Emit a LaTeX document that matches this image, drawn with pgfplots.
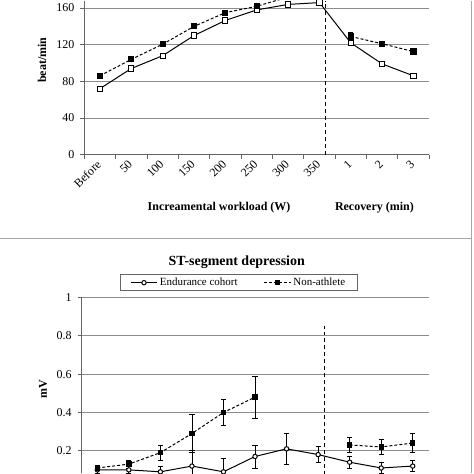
\documentclass[border=0pt]{standalone}
\usepackage{fontspec}
\setmainfont{Liberation Serif}
\usepackage{pgfplots}
\pgfplotsset{compat=1.18}

\definecolor{gridgray}{RGB}{140,140,140}
\definecolor{axisgray}{RGB}{100,100,100}

\pgfplotsset{
  panel/.style={
    scale only axis,
    xmin=0.5, xmax=11.5,
    axis lines*=left,
    axis line style={axisgray, line width=0.8pt},
    xtick={1,...,11},
    minor xtick={0.5,1.5,...,11.5},
    major x tick style={draw=none},
    minor x tick style={axisgray, line width=0.8pt},
    major y tick style={axisgray, line width=0.8pt},
    tick align=outside,
    major tick length=4pt,
    minor tick length=4pt,
    ymajorgrids,
    grid style={gridgray, line width=0.8pt},
    tick label style={font=\fontsize{12}{12}\selectfont},
    yticklabel style={xshift=-2.5pt},
    /pgf/number format/assume math mode=true,
    error bars/error bar style={black, line width=0.9pt, solid},
    error bars/error mark options={rotate=90, mark size=2.6pt, line width=0.9pt, solid},
    legend image code/.code={
      \draw[mark repeat=2, mark phase=2, #1]
        plot coordinates {(0pt,0pt) (13.5pt,0pt) (27pt,0pt)};
    },
  },
  endur/.style={black, line width=1pt, solid},
  nonath/.style={black, line width=1pt, dash pattern=on 3pt off 2pt},
}

\begin{document}
\begin{tikzpicture}
\path (0pt,0pt) rectangle (474pt,474pt);

% heart rate (upper part cropped in the original)
\begin{axis}[panel,
    at={(84pt,319.7pt)}, anchor=south west,
    width=346pt, height=154.3pt,
    ymin=0, ymax=168, ytick={0,40,...,160},
    xticklabels={Before,50,100,150,200,250,300,350,1,2,3},
    xticklabel style={rotate=45, anchor=east, yshift=-2pt},
  ]
\addplot[endur, mark=square*, mark size=2.6pt, mark options={solid, fill=white},
    error bars/.cd, y dir=both, y explicit] coordinates {
  (1,72) +- (0,1.5) (2,94) +- (0,1.5) (3,108) +- (0,1.5) (4,130) +- (0,1.5)
  (5,146.5) +- (0,1.5) (6,158) +- (0,1.5) (7,164) +- (0,1.5) (8,166) +- (0,1.5)
  (9,122) +- (0,2) (10,99) +- (0,1.5) (11,86) +- (0,1.5)
};
\addplot[nonath, mark=square*, mark size=2.6pt, mark options={solid, fill=black},
    unbounded coords=jump,
    error bars/.cd, y dir=both, y explicit] coordinates {
  (1,86) +- (0,1.5) (2,104) +- (0,1.5) (3,120.5) +- (0,1.5) (4,140) +- (0,2)
  (5,155) +- (0,1.5) (6,162) +- (0,1.5) (7,172) +- (0,1.5) (8,174) +- (0,1.5)
  (8.5,nan)
  (9,129) +- (0,4) (10,121) +- (0,2) (11,112.5) +- (0,3)
};
\addplot[black, line width=1pt, dash pattern=on 4pt off 3pt] coordinates {(8.19,0) (8.19,168)};
\end{axis}
\node[font=\bfseries\fontsize{12}{12}\selectfont] at (219.2pt,266.7pt) {Increamental workload (W)};
\node[font=\bfseries\fontsize{12}{12}\selectfont] at (375pt,266.7pt) {Recovery (min)};
\node[font=\bfseries\fontsize{12}{12}\selectfont, rotate=90] at (41.7pt,414.3pt) {beat/min};

% ST-segment depression (lower part cropped in the original)
\begin{axis}[panel,
    at={(81.3pt,0pt)}, anchor=south west,
    width=348pt, height=176.3pt,
    ymin=0.082, ymax=1, ytick={0.2,0.4,...,1},
    axis x line=none,
    legend columns=2,
    legend style={at={(0.4527,1.0845)}, anchor=center,
      draw=axisgray, line width=0.8pt, inner xsep=10pt, inner ysep=1.5pt,
      font=\fontsize{11}{11}\selectfont,
      /tikz/every even column/.append style={column sep=24pt}},
  ]
\addplot[endur, mark=*, mark size=2.2pt, mark options={solid, fill=white},
    error bars/.cd, y dir=both, y explicit] coordinates {
  (1,0.10) +- (0,0.02) (2,0.10) +- (0,0.02) (3,0.09) +- (0,0.03) (4,0.12) +- (0,0.08)
  (5,0.09) +- (0,0.07) (6,0.17) +- (0,0.06) (7,0.21) +- (0,0.08) (8,0.18) +- (0,0.04)
  (9,0.14) +- (0,0.03) (10,0.11) +- (0,0.03) (11,0.12) +- (0,0.03)
};
\addlegendentry{Endurance cohort}
\addplot[nonath, mark=square*, mark size=2.2pt, mark options={solid, fill=black},
    unbounded coords=jump,
    error bars/.cd, y dir=both, y explicit] coordinates {
  (1,0.11) +- (0,0.015) (2,0.13) +- (0,0.02) (3,0.19) +- (0,0.04) (4,0.29) +- (0,0.10)
  (5,0.40) +- (0,0.07) (6,0.48) +- (0,0.11)
  (7,nan) (8,nan)
  (9,0.23) +- (0,0.04) (10,0.22) +- (0,0.04) (11,0.24) +- (0,0.05)
};
\addlegendentry{Non-athlete}
\addplot[black, line width=1pt, dash pattern=on 4pt off 3pt, forget plot] coordinates {(8.19,0) (8.19,0.85)};
\end{axis}
\node[font=\bfseries\fontsize{14}{14}\selectfont] at (237pt,211.3pt) {ST-segment depression};
\node[font=\bfseries\fontsize{12}{12}\selectfont, rotate=90] at (42.7pt,84pt) {mV};

% frame of the original figure
\draw[gray!70, line width=1pt] (472.3pt,0pt) -- (472.3pt,474pt);
\draw[gray!70, line width=1pt] (0pt,235.7pt) -- (472.3pt,235.7pt);
\end{tikzpicture}
\end{document}
